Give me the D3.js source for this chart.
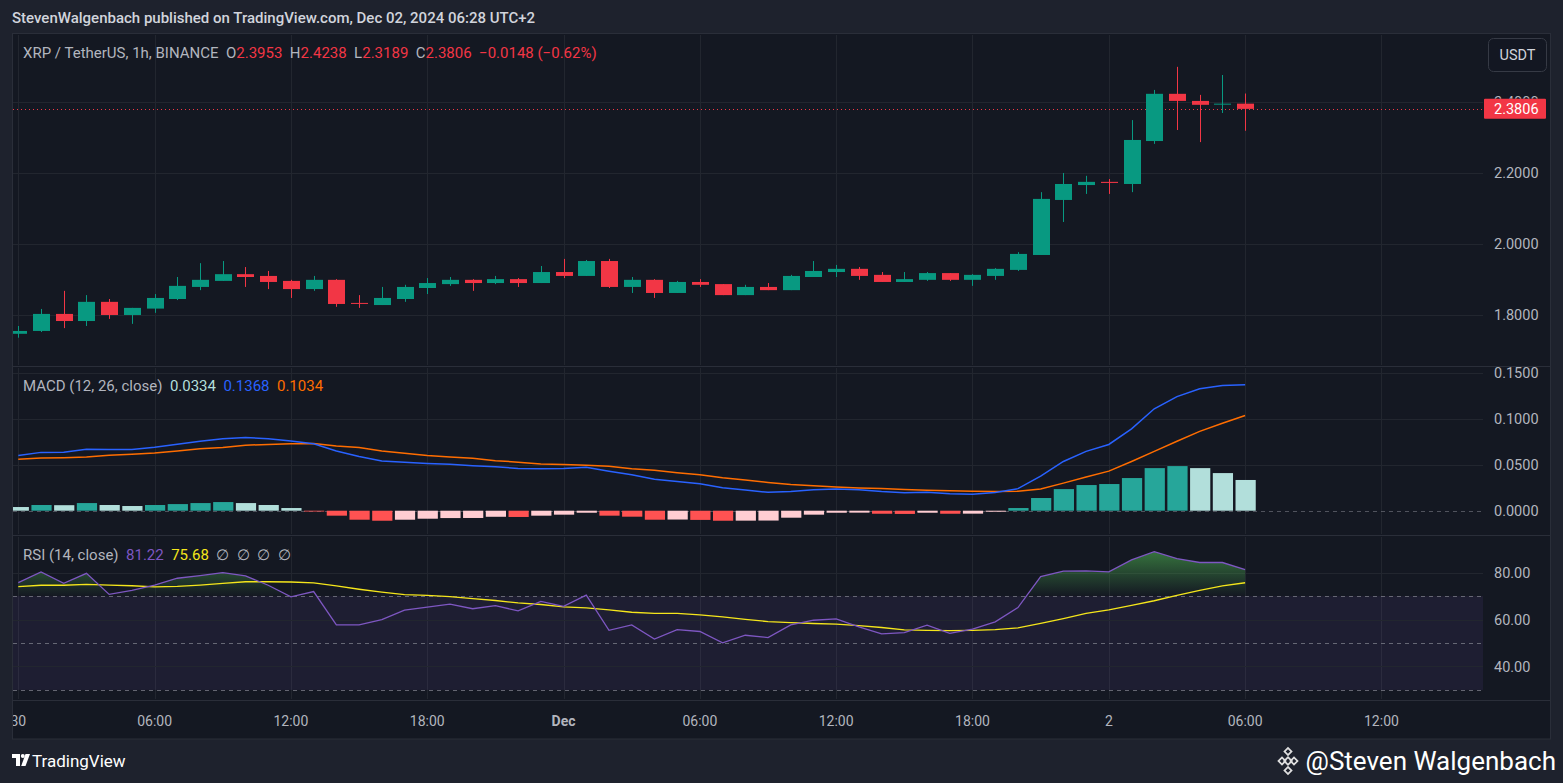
<!DOCTYPE html>
<html><head><meta charset="utf-8">
<script src="https://cdn.jsdelivr.net/npm/d3@7/dist/d3.min.js"></script>
<style>html,body{margin:0;padding:0;background:#1e222d;overflow:hidden}svg{display:block}text{font-family:Roboto,"Noto Sans",sans-serif}</style>
</head><body><svg id="c" width="1563" height="783"></svg>
<script>
// ---------- DATA ----------
const startTime = Date.UTC(2024, 10, 30, 0, 0);
const open  = [1.747,1.755,1.803,1.783,1.837,1.800,1.818,1.845,1.879,1.896,1.915,1.910,1.896,1.873,1.899,1.834,1.828,1.845,1.876,1.887,1.899,1.890,1.901,1.890,1.921,1.910,1.952,1.879,1.899,1.862,1.893,1.887,1.856,1.879,1.870,1.907,1.921,1.930,1.913,1.893,1.899,1.918,1.899,1.910,1.927,1.969,2.124,2.166,2.175,2.169,2.290,2.423,2.403,2.394,2.3953];
const high  = [1.769,1.817,1.868,1.856,1.845,1.820,1.859,1.907,1.946,1.952,1.935,1.924,1.899,1.910,1.901,1.856,1.879,1.885,1.904,1.907,1.901,1.910,1.904,1.938,1.958,1.955,1.958,1.907,1.901,1.896,1.901,1.887,1.885,1.890,1.913,1.952,1.941,1.935,1.921,1.921,1.921,1.918,1.915,1.932,1.977,2.146,2.200,2.192,2.183,2.349,2.434,2.499,2.420,2.476,2.4238];
const low   = [1.736,1.752,1.763,1.769,1.789,1.775,1.806,1.842,1.870,1.896,1.879,1.873,1.848,1.868,1.823,1.820,1.828,1.837,1.859,1.882,1.868,1.887,1.879,1.890,1.904,1.910,1.876,1.862,1.848,1.862,1.879,1.856,1.856,1.870,1.870,1.907,1.907,1.899,1.893,1.893,1.896,1.896,1.882,1.899,1.924,1.969,2.062,2.141,2.141,2.146,2.282,2.321,2.287,2.369,2.3189];
const close = [1.755,1.803,1.783,1.837,1.800,1.820,1.848,1.882,1.899,1.915,1.907,1.893,1.873,1.899,1.831,1.832,1.848,1.879,1.890,1.899,1.890,1.901,1.890,1.921,1.910,1.952,1.879,1.899,1.862,1.893,1.885,1.856,1.879,1.870,1.910,1.924,1.930,1.910,1.893,1.901,1.918,1.899,1.913,1.930,1.972,2.127,2.169,2.175,2.172,2.293,2.423,2.403,2.392,2.3953,2.3806];

const macdLine   = [0.0600,0.0634,0.0636,0.0668,0.0666,0.0666,0.0690,0.0722,0.0756,0.0782,0.0795,0.0782,0.0758,0.0728,0.0650,0.0589,0.0540,0.0527,0.0514,0.0505,0.0490,0.0478,0.0460,0.0455,0.0458,0.0472,0.0430,0.0390,0.0341,0.0317,0.0292,0.0250,0.0225,0.0200,0.0210,0.0228,0.0235,0.0227,0.0208,0.0196,0.0201,0.0184,0.0180,0.0199,0.0240,0.0375,0.0535,0.0645,0.0720,0.0890,0.1108,0.1240,0.1325,0.1360,0.1368];
const signalLine = [0.0560,0.0572,0.0576,0.0585,0.0604,0.0615,0.0628,0.0650,0.0673,0.0688,0.0712,0.0720,0.0729,0.0731,0.0704,0.0687,0.0649,0.0625,0.0601,0.0585,0.0569,0.0544,0.0528,0.0509,0.0501,0.0494,0.0484,0.0455,0.0439,0.0413,0.0392,0.0359,0.0333,0.0307,0.0286,0.0271,0.0257,0.0248,0.0241,0.0231,0.0223,0.0217,0.0212,0.0210,0.0211,0.0237,0.0300,0.0366,0.0430,0.0535,0.0645,0.0755,0.0862,0.0951,0.1034];
const histogram  = [0.0040,0.0062,0.0060,0.0083,0.0062,0.0051,0.0062,0.0072,0.0083,0.0094,0.0083,0.0062,0.0029,-0.0003,-0.0054,-0.0098,-0.0109,-0.0098,-0.0087,-0.0080,-0.0079,-0.0066,-0.0068,-0.0054,-0.0043,-0.0022,-0.0054,-0.0065,-0.0098,-0.0096,-0.0100,-0.0109,-0.0108,-0.0107,-0.0076,-0.0043,-0.0022,-0.0021,-0.0033,-0.0035,-0.0022,-0.0033,-0.0032,-0.0011,0.0029,0.0138,0.0235,0.0279,0.0290,0.0355,0.0463,0.0485,0.0463,0.0409,0.0334];
const histBefore = 0.0048;

const rsi   = [75.7,80.3,75.4,79.7,70.7,72.4,74.7,77.6,78.7,80.0,78.6,74.6,69.7,71.9,57.7,57.7,60.0,64.0,65.3,66.6,64.6,65.9,63.7,67.7,65.6,70.4,55.4,57.7,51.7,55.7,54.9,50.1,53.3,52.3,57.7,59.7,60.3,56.9,53.9,54.4,57.6,54.1,55.9,59.0,65.1,78.3,80.6,80.7,80.3,85.4,88.9,86.0,84.3,84.3,81.22];
const rsiMA = [74.0,74.6,74.6,75.0,74.7,74.4,73.9,74.1,74.7,75.4,76.1,76.1,76.0,75.6,74.3,72.9,71.7,70.6,70.3,69.8,68.9,68.1,67.1,66.4,65.4,65.0,64.1,63.1,62.6,62.6,62.0,61.1,60.1,59.1,58.7,58.3,58.0,57.4,56.6,55.6,55.4,55.3,55.4,55.7,56.4,58.4,60.4,62.6,64.1,66.0,68.0,70.3,72.4,74.3,75.68];

const priceTicks = [1.8, 2.0, 2.2, 2.4];
const macdTicks  = [0.0, 0.05, 0.10, 0.15];
const rsiTicks   = [40, 60, 80];
const rsiLevels  = [70, 50, 30];
const timeTickHours  = [0, 6, 12, 18, 24, 30, 36, 42, 48, 54, 60];
const timeTickLabels = ["30","06:00","12:00","18:00","Dec","06:00","12:00","18:00","2","06:00","12:00"];
const boldTickLabels = ["Dec"];
const lastPrice = 2.3806;
const lastPriceLabel = "2.3806";

// ---------- LAYOUT ----------
const HOUR = 3600e3;
const svg = d3.select("#c");
const L = 13, R = 1483, FR = 1550.5;
const pricePane = [34, 366], macdPane = [367, 535], rsiPane = [536, 700];
const C = {bg:"#1e222d", pane:"#141822", grid:"#22262f", border:"#2a2e39", text:"#b2b5be", up:"#089981", down:"#f23645"};

const times = close.map((d,i)=> new Date(startTime + i*HOUR));
const x = d3.scaleUtc().domain([new Date(startTime - 0.233*HOUR), new Date(startTime + 64.47*HOUR)]).range([L, R]);
const yP = d3.scaleLinear().domain([1.6563, 2.5915]).range([pricePane[1], pricePane[0]]);
const yM = d3.scaleLinear().domain([-0.0264, 0.1562]).range([macdPane[1], macdPane[0]]);
const yR = d3.scaleLinear().domain([25.7, 95.6]).range([rsiPane[1], rsiPane[0]]);
const step = x(times[1]) - x(times[0]);

svg.append("rect").attr("width",1563).attr("height",783).attr("fill",C.bg);
svg.append("rect").attr("x",12.5).attr("y",33.5).attr("width",FR-12.5).attr("height",739-33.5).attr("fill",C.pane).attr("stroke",C.border);

const defs = svg.append("defs");
function clip(id, y0, y1){ defs.append("clipPath").attr("id",id).append("rect").attr("x",L).attr("y",y0).attr("width",R-L).attr("height",y1-y0); }
clip("cp", pricePane[0], pricePane[1]); clip("cm", macdPane[0], macdPane[1]); clip("cr", rsiPane[0], rsiPane[1]);
defs.append("clipPath").attr("id","ct").append("rect").attr("x",L).attr("y",700).attr("width",R-L+60).attr("height",39);
defs.append("clipPath").attr("id","cob").append("rect").attr("x",L).attr("y",rsiPane[0]).attr("width",R-L).attr("height",yR(70)-rsiPane[0]);
defs.append("clipPath").attr("id","cpl").append("rect").attr("x",1484).attr("y",pricePane[0]).attr("width",66).attr("height",yP(lastPrice)-10-pricePane[0]);
const grad = defs.append("linearGradient").attr("id","gob").attr("gradientUnits","userSpaceOnUse").attr("x1",0).attr("x2",0).attr("y1",yR(100)).attr("y2",yR(70));
grad.append("stop").attr("offset",0).attr("stop-color","#4caf50").attr("stop-opacity",0.95);
grad.append("stop").attr("offset",1).attr("stop-color","#4caf50").attr("stop-opacity",0.0);

// separators
[366.5, 535.5, 700.5].forEach(y=> svg.append("line").attr("x1",12.5).attr("x2",FR).attr("y1",y).attr("y2",y).attr("stroke",C.border));

// vertical grid
const tickTimes = timeTickHours.map(h=> new Date(startTime + h*HOUR));
[pricePane, macdPane, rsiPane].forEach(p=>{
  svg.append("g").selectAll("line").data(tickTimes.filter(t=>x(t)<R)).join("line")
    .attr("x1",d=>Math.round(x(d))+0.5).attr("x2",d=>Math.round(x(d))+0.5).attr("y1",p[0]+1).attr("y2",p[1]-1).attr("stroke",C.grid);
});
function hgrid(scale, vals){
  svg.append("g").selectAll("line").data(vals).join("line")
    .attr("x1",L).attr("x2",R).attr("y1",d=>Math.round(scale(d))+0.5).attr("y2",d=>Math.round(scale(d))+0.5).attr("stroke",C.grid);
}
hgrid(yP, priceTicks);
hgrid(yM, macdTicks.filter(d=>d!==0));

// ---------- PRICE PANE ----------
const gp = svg.append("g").attr("clip-path","url(#cp)");
gp.append("line").attr("x1",L).attr("x2",R).attr("y1",Math.round(yP(lastPrice))+0.5).attr("y2",Math.round(yP(lastPrice))+0.5)
  .attr("stroke",C.down).attr("stroke-dasharray","1,3");
const cand = gp.selectAll("g.c").data(close.map((c,i)=>({t:times[i],o:open[i],h:high[i],l:low[i],c}))).join("g");
cand.append("line").attr("x1",d=>Math.round(x(d.t))+0.5).attr("x2",d=>Math.round(x(d.t))+0.5)
  .attr("y1",d=>yP(d.h)).attr("y2",d=>yP(d.l)).attr("stroke",d=>d.c>=d.o?C.up:C.down);
const bw = Math.round(step*0.75);
cand.append("rect").attr("x",d=>Math.round(x(d.t))+0.5-bw/2).attr("width",bw)
  .attr("y",d=>yP(Math.max(d.o,d.c))).attr("height",d=>Math.max(1,Math.abs(yP(d.o)-yP(d.c))))
  .attr("fill",d=>d.c>=d.o?C.up:C.down);

// price axis labels (label hidden under the last-price tag is clipped to its visible part)
svg.append("g").selectAll("text").data(priceTicks).join("text").attr("x",1494).attr("y",d=>yP(d)).attr("dy","0.36em")
  .attr("clip-path",d=>Math.abs(yP(d)-yP(lastPrice))<14?"url(#cpl)":null)
  .attr("fill",C.text).attr("font-size",14.5).text(d=>d3.format(".4f")(d));
svg.append("rect").attr("x",1484).attr("y",yP(lastPrice)-10).attr("width",62).attr("height",20).attr("fill",C.down).attr("rx",1);
svg.append("text").attr("x",1494).attr("y",yP(lastPrice)).attr("dy","0.36em").attr("fill","#ffffff").attr("font-size",14.5).text(lastPriceLabel);
svg.append("rect").attr("x",1488.5).attr("y",38.5).attr("width",58).attr("height",33).attr("rx",5).attr("fill","#131722").attr("stroke","#363a45");
svg.append("text").attr("x",1517.5).attr("y",55).attr("dy","0.36em").attr("text-anchor","middle").attr("fill","#d1d4dc").attr("font-size",14.5).text("USDT");

// ---------- MACD PANE ----------
const gm = svg.append("g").attr("clip-path","url(#cm)");
gm.append("line").attr("x1",L).attr("x2",R).attr("y1",Math.round(yM(0))+0.5).attr("y2",Math.round(yM(0))+0.5)
  .attr("stroke","#787b86").attr("stroke-opacity",0.6).attr("stroke-dasharray","4,4");
const hw = step - 2.5;
gm.selectAll("rect").data(histogram).join("rect")
  .attr("x",(d,i)=>x(times[i])+0.5-hw/2).attr("width",hw)
  .attr("y",d=>Math.min(yM(d),yM(0))).attr("height",d=>Math.max(0.8,Math.abs(yM(d)-yM(0))))
  .attr("fill",(d,i)=>{ const prev = i===0?histBefore:histogram[i-1];
     return d>=0 ? (d>=prev?"#26a69a":"#b2dfdb") : (d<prev?"#ff5252":"#ffcdd2"); });
const lineM = d3.line().x((d,i)=>x(times[i])).y(d=>yM(d));
gm.append("path").attr("d",lineM(signalLine)).attr("fill","none").attr("stroke","#ff6d00").attr("stroke-width",1.5);
gm.append("path").attr("d",lineM(macdLine)).attr("fill","none").attr("stroke","#2962ff").attr("stroke-width",1.5);
svg.append("g").selectAll("text").data(macdTicks).join("text").attr("x",1494).attr("y",d=>yM(d)).attr("dy","0.36em")
  .attr("fill",C.text).attr("font-size",14.5).text(d=>d3.format(".4f")(d));

// ---------- RSI PANE ----------
const gr = svg.append("g").attr("clip-path","url(#cr)");
gr.append("rect").attr("x",L).attr("width",R-L).attr("y",yR(70)).attr("height",yR(30)-yR(70)).attr("fill","#7e57c2").attr("fill-opacity",0.1);
rsiTicks.forEach(v=> gr.append("line").attr("x1",L).attr("x2",R).attr("y1",Math.round(yR(v))+0.5).attr("y2",Math.round(yR(v))+0.5).attr("stroke",C.grid));
rsiLevels.forEach(v=> gr.append("line").attr("x1",L).attr("x2",R).attr("y1",Math.round(yR(v))+0.5).attr("y2",Math.round(yR(v))+0.5)
  .attr("stroke","#787b86").attr("stroke-opacity",0.8).attr("stroke-dasharray","4,4"));
const areaOB = d3.area().x((d,i)=>x(times[i])).y0(yR(70)).y1(d=>yR(d));
gr.append("path").attr("d",areaOB(rsi)).attr("fill","url(#gob)").attr("clip-path","url(#cob)");
const lineR = d3.line().x((d,i)=>x(times[i])).y(d=>yR(d));
gr.append("path").attr("d",lineR(rsiMA)).attr("fill","none").attr("stroke","#f5e61b").attr("stroke-width",1.3);
gr.append("path").attr("d",lineR(rsi)).attr("fill","none").attr("stroke","#7e57c2").attr("stroke-width",1.3);
svg.append("g").selectAll("text").data(rsiTicks).join("text").attr("x",1494).attr("y",d=>yR(d)).attr("dy","0.36em")
  .attr("fill",C.text).attr("font-size",14.5).text(d=>d3.format(".2f")(d));

// ---------- TIME AXIS ----------
svg.append("g").attr("clip-path","url(#ct)").selectAll("text").data(timeTickLabels).join("text")
  .attr("x",(d,i)=>x(tickTimes[i])).attr("y",721).attr("dy","0.36em").attr("text-anchor","middle")
  .attr("fill",C.text).attr("font-size",14).attr("font-weight",d=>boldTickLabels.includes(d)?700:400).text(d=>d);

// ---------- TEXTS ----------
svg.append("text").attr("x",12).attr("y",18).attr("dy","0.36em").attr("fill","#d1d4dc").attr("font-size",15).attr("font-weight",500)
  .text("StevenWalgenbach published on TradingView.com, Dec 02, 2024 06:28 UTC+2");
function legend(xx, y, parts){
  const t = svg.append("text").attr("x",xx).attr("y",y).attr("dy","0.36em").attr("font-size",15).style("white-space","pre");
  parts.forEach(p=> t.append("tspan").attr("fill",p[1]).text(p[0]));
}
const red = C.down, gl = "#b2b5be";
legend(23, 53, [["XRP / TetherUS, 1h, BINANCE  O",gl],["2.3953",red],["  H",gl],["2.4238",red],["  L",gl],["2.3189",red],["  C",gl],["2.3806",red],["  −0.0148 (−0.62%)",red]]);
legend(23, 386, [["MACD (12, 26, close)  ",gl],["0.0334",  "#b2dfdb"],["  0.1368","#2962ff"],["  0.1034","#ff6d00"]]);
legend(23, 555, [["RSI (14, close)  ",gl],["81.22","#7e57c2"],["  75.68","#f5e61b"],["  ∅  ∅  ∅  ∅",gl]]);

// footer
const logo = svg.append("g").attr("transform","translate(12,754)").attr("fill","#ffffff");
logo.append("path").attr("d","M0 0 H8 V12 H4 V4 H0 Z");
logo.append("circle").attr("cx",10.8).attr("cy",2).attr("r",2);
logo.append("path").attr("d","M13.5 0 H18 L13.5 12 H9.2 Z");
svg.append("text").attr("x",32).attr("y",761).attr("dy","0.36em").attr("fill","#ffffff").attr("font-size",17).text("TradingView");
const bn = svg.append("g").attr("transform","translate(1288,761)").attr("fill","none").attr("stroke","#e0e0e0").attr("stroke-width",1.7);
[[0,-9.5],[-6,0],[6,0],[0,9.5]].forEach(p=> bn.append("rect").attr("x",p[0]-2.5).attr("y",p[1]-2.5).attr("width",5).attr("height",5).attr("transform",`rotate(45 ${p[0]} ${p[1]})`));
bn.append("rect").attr("x",-2.7).attr("y",-2.7).attr("width",5.4).attr("height",5.4).attr("transform","rotate(45)");
svg.append("text").attr("x",1556).attr("y",761).attr("dy","0.36em").attr("text-anchor","end").attr("fill","#ffffff").attr("font-size",26).text("@Steven Walgenbach");
</script></body></html>
